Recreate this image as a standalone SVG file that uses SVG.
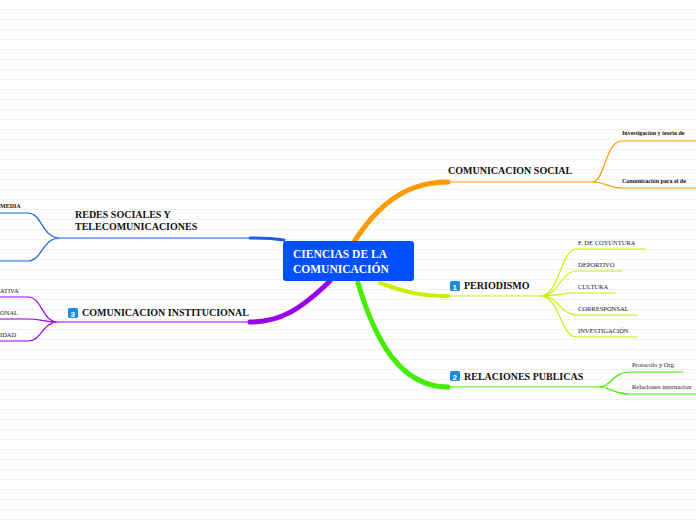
<svg xmlns="http://www.w3.org/2000/svg" width="696" height="520" viewBox="0 0 696 520">
<defs>
<pattern id="ln" width="696" height="10" patternUnits="userSpaceOnUse"><line x1="0" y1="9.5" x2="696" y2="9.5" stroke="#f0f0f0" stroke-width="1"/></pattern>
</defs>
<style>
.t{font-family:"Liberation Serif",serif;font-weight:bold;fill:#111;font-size:10px}
.s{font-family:"Liberation Serif",serif;fill:#222;font-size:6.5px}
.sb{font-family:"Liberation Serif",serif;font-weight:bold;fill:#111;font-size:6px}
.c{fill:none;stroke-linecap:round}
.ic{font-family:"Liberation Sans",sans-serif;font-weight:bold;fill:#fff;font-size:8px}
</style>
<rect width="696" height="520" fill="#fff"/>
<rect width="696" height="520" fill="url(#ln)"/>
<g id="connectors">
<path d="M352 245 C380 200 410 182 448 182" stroke="#ff9900" stroke-width="5" class="c"/>
<path d="M448 182 H592 C605 182 605 141 622 141 H696 M592 182 C605 182 610 188 622 188 H696" stroke="#ff9900" stroke-width="1.2" class="c"/>
<path d="M380 283 C405 292 420 296 448 296" stroke="#ccee00" stroke-width="4" class="c"/>
<path d="M448 296 H540 M540 296 C560 296 560 249 577 249 H645 M540 296 C560 296 560 271 577 271 H622 M540 296 C560 296 560 293 577 293 H615 M540 296 C560 296 560 315 577 315 H637 M540 296 C560 296 560 337 577 337 H637" stroke="#ccee00" stroke-width="1.2" class="c"/>
<path d="M358 283 C375 340 400 387 448 387" stroke="#44ee00" stroke-width="5" class="c"/>
<path d="M448 387 H598 C612 387 612 372 630 372 H683 M598 387 C612 387 612 394 630 394 H696" stroke="#44ee00" stroke-width="1.2" class="c"/>
<path d="M330 281 C300 310 280 322 250 322" stroke="#9900ee" stroke-width="5" class="c"/>
<path d="M250 322 H58 C42 322 42 297 28 297 H0 M58 322 C42 322 42 319 28 319 H0 M58 322 C42 322 42 341 28 341 H0" stroke="#9900ee" stroke-width="1.2" class="c"/>
<path d="M284 240 C270 238 260 238 250 238" stroke="#1e5ee6" stroke-width="3" class="c"/>
<path d="M250 238 H60 C42 238 42 213 28 213 H0 M60 238 C42 238 42 261 28 261 H0" stroke="#1e5ee6" stroke-width="1.2" class="c"/>
</g>
<g id="center">
<rect x="283" y="241" width="131" height="40" rx="3" fill="#0050ff"/>
<text x="293" y="258" class="t" style="fill:#fff;font-size:11.5px">CIENCIAS DE LA</text>
<text x="293" y="273" class="t" style="fill:#fff;font-size:11.5px">COMUNICACIÓN</text>
</g>
<g id="social">
<text x="448" y="174" class="t">COMUNICACION SOCIAL</text>
<text x="622" y="135" class="sb">Investigación y teoría de</text>
<text x="622" y="183" class="sb">Comunicación para el de</text>
</g>
<g id="periodismo">
<rect x="450" y="281" width="10" height="10" rx="1.5" fill="#1a8ce0"/>
<text x="452.5" y="289.5" class="ic">1</text>
<text x="464" y="289" class="t">PERIODISMO</text>
<text x="578" y="245" class="s">F. DE COYUNTURA</text>
<text x="578" y="267" class="s">DEPORTIVO</text>
<text x="578" y="289" class="s">CULTURA</text>
<text x="578" y="311" class="s">CORRESPONSAL</text>
<text x="578" y="333" class="s">INVESTIGACIÓN</text>
</g>
<g id="rp">
<rect x="450" y="371" width="10" height="10" rx="1.5" fill="#1a8ce0"/>
<text x="452.5" y="379.5" class="ic">2</text>
<text x="464" y="380" class="t">RELACIONES PUBLICAS</text>
<text x="632" y="367" class="s">Protocolo y Org.</text>
<text x="632" y="389" class="s">Relaciones internacion</text>
</g>
<g id="inst">
<rect x="68" y="308" width="10" height="10" rx="1.5" fill="#1a8ce0"/>
<text x="70.5" y="316.5" class="ic">3</text>
<text x="82" y="316" class="t">COMUNICACION INSTITUCIONAL</text>
<text x="0" y="293" class="s">ATIVA</text>
<text x="0" y="315" class="s">ONAL</text>
<text x="0" y="337" class="s">IDAD</text>
</g>
<g id="redes">
<text x="75" y="218" class="t">REDES SOCIALES Y</text>
<text x="75" y="230" class="t">TELECOMUNICACIONES</text>
<text x="0" y="208" class="sb">MEDIA</text>
</g>
</svg>
